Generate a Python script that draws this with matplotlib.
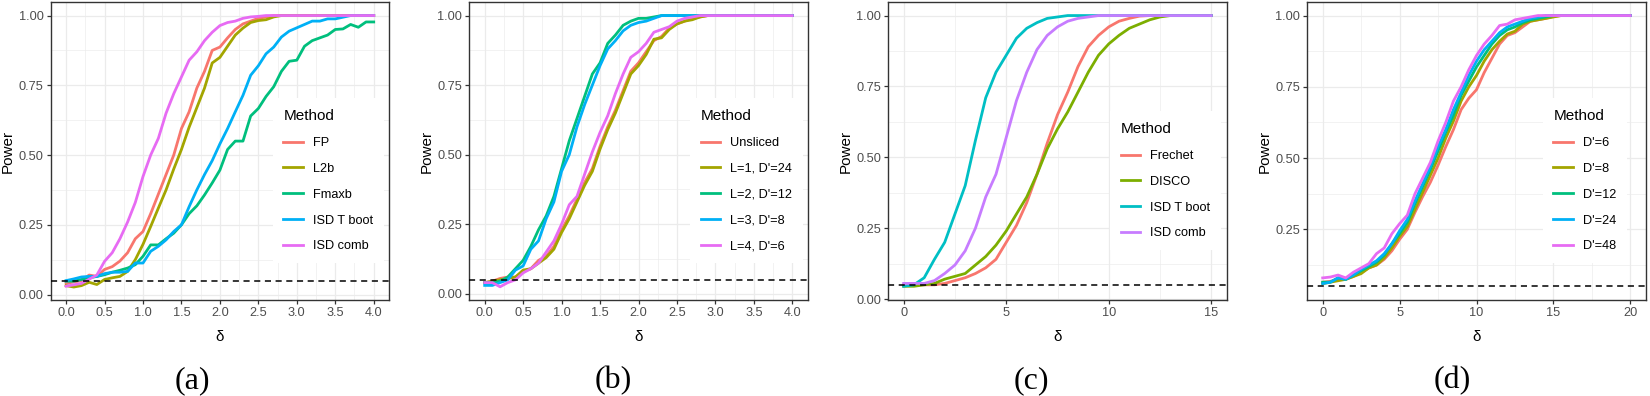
"""
Power curves for four simulation settings (a)-(d), ggplot-like style.
"""
import matplotlib
matplotlib.use("Agg")
import matplotlib.pyplot as plt
from matplotlib.ticker import MultipleLocator, FixedLocator
import numpy as np

plt.rcParams.update({
    "font.family": "Liberation Sans",
    "axes.linewidth": 1.0,
})

# ── Data ──────────────────────────────────────────────────────────────────────
# (a) x = 0 .. 4 step 0.1
delta_a = np.arange(41) / 10
methods_a = ["FP", "L2b", "Fmaxb", "ISD T boot", "ISD comb"]
fp_a = [0.04, 0.045, 0.05, 0.07, 0.065, 0.09, 0.10, 0.12, 0.15, 0.20, 0.226,
        0.29, 0.36, 0.43, 0.50, 0.595, 0.655, 0.74, 0.80, 0.875, 0.887,
        0.92, 0.95, 0.97, 0.98, 0.99, 0.995, 1.0, 1.0, 1.0, 1.0, 1.0, 1.0,
        1.0, 1.0, 1.0, 1.0, 1.0, 1.0, 1.0, 1.0]
l2b_a = [0.032, 0.027, 0.032, 0.044, 0.036, 0.054, 0.06, 0.065, 0.083, 0.125,
         0.18, 0.244, 0.31, 0.375, 0.45, 0.52, 0.60, 0.67, 0.74, 0.83, 0.85,
         0.89, 0.93, 0.955, 0.975, 0.982, 0.985, 0.995, 1.0, 1.0, 1.0, 1.0,
         1.0, 1.0, 1.0, 1.0, 1.0, 1.0, 1.0, 1.0, 1.0]
fmaxb_a = [0.048, 0.048, 0.054, 0.06, 0.065, 0.071, 0.08, 0.087, 0.095, 0.107,
           0.137, 0.178, 0.178, 0.20, 0.22, 0.25, 0.29, 0.318, 0.357, 0.40,
           0.446, 0.52, 0.55, 0.55, 0.64, 0.667, 0.71, 0.745, 0.80, 0.836,
           0.84, 0.89, 0.91, 0.92, 0.93, 0.95, 0.952, 0.968, 0.958, 0.977,
           0.977]
isdt_a = [0.05, 0.056, 0.063, 0.065, 0.065, 0.075, 0.08, 0.08, 0.083, 0.113,
          0.113, 0.155, 0.173, 0.196, 0.226, 0.25, 0.315, 0.375, 0.43, 0.48,
          0.54, 0.595, 0.655, 0.714, 0.786, 0.82, 0.863, 0.887, 0.923, 0.944,
          0.956, 0.968, 0.98, 0.98, 0.988, 0.988, 0.994, 1.0, 1.0, 1.0, 1.0]
comb_a = [0.03, 0.035, 0.04, 0.055, 0.07, 0.119, 0.15, 0.20, 0.26, 0.33, 0.423,
          0.50, 0.56, 0.65, 0.72, 0.78, 0.84, 0.87, 0.91, 0.94, 0.964, 0.975,
          0.98, 0.99, 0.995, 0.997, 1.0, 1.0, 1.0, 1.0, 1.0, 1.0, 1.0, 1.0,
          1.0, 1.0, 1.0, 1.0, 1.0, 1.0, 1.0]

# (b) x = 0 .. 4 step 0.1
delta_b = np.arange(41) / 10
methods_b = ["Unsliced", "L=1, D'=24", "L=2, D'=12", "L=3, D'=8", "L=4, D'=6"]
unsliced_b = [0.04, 0.045, 0.055, 0.06, 0.06, 0.08, 0.09, 0.12, 0.135, 0.17,
              0.23, 0.28, 0.34, 0.40, 0.45, 0.53, 0.60, 0.66, 0.73, 0.80, 0.83,
              0.87, 0.91, 0.925, 0.955, 0.97, 0.98, 0.99, 0.995, 1.0] + [1.0] * 11
l1_b = [0.04, 0.045, 0.05, 0.055, 0.06, 0.085, 0.09, 0.11, 0.13, 0.16, 0.22,
        0.27, 0.33, 0.39, 0.44, 0.52, 0.59, 0.65, 0.72, 0.79, 0.82, 0.86,
        0.915, 0.92, 0.95, 0.97, 0.98, 0.985, 0.995, 1.0] + [1.0] * 11
l2_b = [0.04, 0.04, 0.045, 0.06, 0.09, 0.12, 0.17, 0.23, 0.28, 0.35, 0.45,
        0.55, 0.63, 0.71, 0.79, 0.83, 0.90, 0.93, 0.965, 0.98, 0.99, 0.99,
        0.995, 1.0] + [1.0] * 17
l3_b = [0.03, 0.03, 0.04, 0.05, 0.085, 0.10, 0.16, 0.19, 0.27, 0.33, 0.44,
        0.50, 0.60, 0.68, 0.75, 0.82, 0.88, 0.91, 0.945, 0.965, 0.975, 0.98,
        0.99, 1.0] + [1.0] * 17
l4_b = [0.04, 0.04, 0.025, 0.04, 0.05, 0.075, 0.09, 0.11, 0.15, 0.19, 0.25,
        0.32, 0.35, 0.43, 0.51, 0.58, 0.64, 0.72, 0.79, 0.85, 0.87, 0.90,
        0.94, 0.95, 0.96, 0.98, 0.99, 0.995, 1.0] + [1.0] * 12

# (c) x = 0 .. 15 step 0.5
delta_c = np.arange(31) / 2
methods_c = ["Frechet", "DISCO", "ISD T boot", "ISD comb"]
frechet_c = [0.05, 0.05, 0.05, 0.05, 0.055, 0.065, 0.075, 0.09, 0.11, 0.14,
             0.20, 0.26, 0.34, 0.44, 0.55, 0.65, 0.73, 0.82, 0.89, 0.93, 0.96,
             0.98, 0.99, 0.998] + [1.0] * 7
disco_c = [0.045, 0.045, 0.05, 0.055, 0.07, 0.08, 0.09, 0.12, 0.15, 0.19,
           0.24, 0.30, 0.36, 0.44, 0.53, 0.60, 0.66, 0.73, 0.80, 0.86, 0.90,
           0.93, 0.955, 0.97, 0.985, 0.995, 1.0] + [1.0] * 4
isdt_c = [0.045, 0.05, 0.075, 0.14, 0.20, 0.30, 0.40, 0.56, 0.71, 0.80, 0.86,
          0.92, 0.955, 0.975, 0.99, 0.995] + [1.0] * 15
comb_c = [0.055, 0.055, 0.055, 0.065, 0.09, 0.12, 0.17, 0.25, 0.36, 0.44,
          0.57, 0.70, 0.80, 0.88, 0.93, 0.96, 0.98, 0.99, 0.995] + [1.0] * 12

# (d) x = 0 .. 20 step 0.5
delta_d = np.arange(41) / 2
methods_d = ["D'=6", "D'=8", "D'=12", "D'=24", "D'=48"]
d6 = [0.065, 0.068, 0.075, 0.075, 0.085, 0.10, 0.115, 0.125, 0.145, 0.175,
      0.215, 0.25, 0.31, 0.365, 0.415, 0.475, 0.54, 0.60, 0.67, 0.71, 0.74,
      0.80, 0.85, 0.90, 0.93, 0.94, 0.96, 0.98, 0.985, 0.99, 0.997] + [1.0] * 10
d8 = [0.06, 0.065, 0.07, 0.075, 0.085, 0.095, 0.115, 0.125, 0.15, 0.185,
      0.225, 0.26, 0.32, 0.38, 0.44, 0.50, 0.57, 0.63, 0.70, 0.75, 0.79,
      0.84, 0.88, 0.91, 0.935, 0.945, 0.97, 0.98, 0.985, 0.99, 0.995] + [1.0] * 10
d12 = [0.065, 0.065, 0.08, 0.075, 0.09, 0.105, 0.12, 0.135, 0.16, 0.20,
       0.235, 0.275, 0.34, 0.40, 0.46, 0.525, 0.59, 0.65, 0.72, 0.77, 0.82,
       0.86, 0.90, 0.93, 0.95, 0.96, 0.975, 0.985, 0.99, 0.995] + [1.0] * 11
d24 = [0.06, 0.065, 0.08, 0.075, 0.09, 0.11, 0.125, 0.14, 0.165, 0.20,
       0.245, 0.285, 0.35, 0.41, 0.47, 0.54, 0.60, 0.67, 0.73, 0.79, 0.84,
       0.88, 0.91, 0.94, 0.96, 0.97, 0.98, 0.99, 0.995] + [1.0] * 12
d48 = [0.08, 0.083, 0.09, 0.08, 0.10, 0.115, 0.13, 0.165, 0.185, 0.235,
       0.27, 0.30, 0.375, 0.43, 0.485, 0.56, 0.625, 0.70, 0.75, 0.81, 0.86,
       0.90, 0.93, 0.965, 0.97, 0.985, 0.99, 0.995] + [1.0] * 13

alpha_level = 0.05
captions = ["(a)", "(b)", "(c)", "(d)"]

# ggplot hue palettes
HUE5 = ["#F8766D", "#A3A500", "#00BF7D", "#00B0F6", "#E76BF3"]
HUE4 = ["#F8766D", "#7CAE00", "#00BFC4", "#C77CFF"]

panels = [
    dict(x=delta_a, ys=[fp_a, l2b_a, fmaxb_a, isdt_a, comb_a], names=methods_a,
         colors=HUE5, xlim=(-0.2, 4.2), xmaj=0.5, xfmt="{:.1f}",
         ylim=(-0.0195, 1.0485), left=50.7),
    dict(x=delta_b, ys=[unsliced_b, l1_b, l2_b, l3_b, l4_b], names=methods_b,
         colors=HUE5, xlim=(-0.2, 4.2), xmaj=0.5, xfmt="{:.1f}",
         ylim=(-0.0225, 1.0488), left=469.3),
    dict(x=delta_c, ys=[frechet_c, disco_c, isdt_c, comb_c], names=methods_c,
         colors=HUE4, xlim=(-0.75, 15.75), xmaj=5, xfmt="{:.0f}",
         ylim=(-0.0035, 1.0478), left=888.3),
    dict(x=delta_d, ys=[d6, d8, d12, d24, d48], names=methods_d,
         colors=HUE5, xlim=(-1, 21), xmaj=5, xfmt="{:.0f}",
         ylim=(0.0025, 1.0475), left=1307.3),
]

W, H = 1650, 396
fig = plt.figure(figsize=(W / 100, H / 100), dpi=100)

GRID = "#EBEBEB"
DARK = "#333333"
caption_x = [192.6, 613.5, 1031, 1452]

for i, p in enumerate(panels):
    ax = fig.add_axes([p["left"] / W, 96 / H, 338.4 / W, 298 / H])
    for y, name, c in zip(p["ys"], p["names"], p["colors"]):
        ax.plot(p["x"], y, color=c, lw=2.0, label=name, solid_joinstyle="round",
                zorder=3)
    ax.axhline(alpha_level, color="black", lw=1.1, linestyle=(0, (4, 3)),
               zorder=4)

    ax.set_xlim(*p["xlim"])
    ax.set_ylim(*p["ylim"])
    ax.xaxis.set_major_locator(MultipleLocator(p["xmaj"]))
    ax.xaxis.set_minor_locator(MultipleLocator(p["xmaj"] / 2))
    ax.yaxis.set_major_locator(FixedLocator([0, 0.25, 0.5, 0.75, 1.0]))
    ax.yaxis.set_minor_locator(FixedLocator([0.125, 0.375, 0.625, 0.875]))
    ax.xaxis.set_major_formatter(lambda v, pos, f=p["xfmt"]: f.format(v))
    ax.yaxis.set_major_formatter(lambda v, pos: f"{v:.2f}")

    ax.grid(True, which="major", color=GRID, lw=0.9, zorder=0)
    ax.grid(True, which="minor", color=GRID, lw=0.45, zorder=0)
    ax.set_axisbelow(True)
    ax.tick_params(which="major", length=3, width=0.9, color=DARK,
                   labelcolor="#4D4D4D", labelsize=9.2, pad=2)
    ax.tick_params(which="minor", length=0)
    for s in ax.spines.values():
        s.set_color(DARK)
        s.set_linewidth(1.0)

    ax.set_xlabel("δ", fontsize=11, labelpad=8)
    ax.set_ylabel("Power", fontsize=11, labelpad=3)

    leg = ax.legend(title="Method", loc="center", bbox_to_anchor=(0.82, 0.4),
                    fontsize=9.2, title_fontsize=11, frameon=True,
                    fancybox=False, handlelength=1.5, handletextpad=0.8,
                    labelspacing=1.08, borderpad=0.85)
    leg._legend_box.align = "left"
    frame = leg.get_frame()
    frame.set_facecolor("white")
    frame.set_edgecolor("none")
    frame.set_alpha(1)
    leg.set_zorder(5)

    fig.text(caption_x[i] / W, (H - 381) / H, captions[i], ha="center",
             va="center", fontsize=23, family="Liberation Serif")

fig.savefig("out.png", dpi=100)
